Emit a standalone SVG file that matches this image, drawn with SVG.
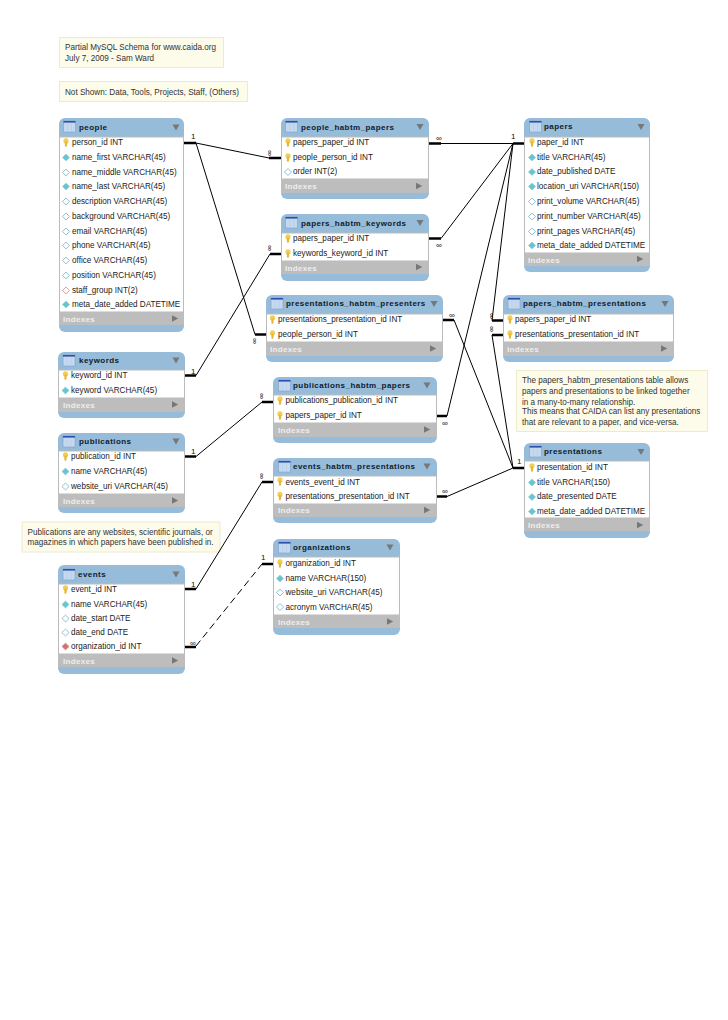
<svg xmlns="http://www.w3.org/2000/svg" width="728" height="1020" viewBox="0 0 728 1020">
<style>
text{font-family:"Liberation Sans",Arial,sans-serif;fill:#222}
.r{font-size:8.15px}
.t{font-size:8px;font-weight:bold;letter-spacing:.45px;fill:#10202e}
.ix{font-size:8px;font-weight:bold;letter-spacing:.3px;fill:#eee}
.n{font-size:8.15px;fill:#333}
.lb{font-size:8px;fill:#111}
.o{fill:#96bcd9}
.b{fill:#fff;stroke:#bbb;stroke-width:1}
.i{fill:#bdbdbd}
.note{fill:#fdfbea;stroke:#eeeacd;stroke-width:1}
.th{stroke:#000;stroke-width:2.5;fill:none}
.tn{stroke:#000;stroke-width:1;fill:none}
.ar{fill:#777}
</style>
<defs>
<g id="k"><circle cx="0" cy="-1.6" r="2.6" fill="#f2ce55"/><path d="M-1.100-1V3.800L.2 4.600 1.100 3V-1Z" fill="#e3b83a"/></g>
<path id="f" d="M0-3.400 3.600 0 0 3.400-3.600 0Z" fill="#69c4d2" stroke="#8cc" stroke-width=".6"/>
<path id="h" d="M0-3.400 3.600 0 0 3.400-3.600 0Z" fill="#fff" stroke="#78b4c4" stroke-width=".8"/>
<path id="r" d="M0-3.400 3.600 0 0 3.400-3.600 0Z" fill="#fff" stroke="#d08a84" stroke-width=".8"/>
<path id="R" d="M0-3.400 3.600 0 0 3.400-3.600 0Z" fill="#d8706c" stroke="#c99" stroke-width=".6"/>
<g id="ti"><rect x="0" y="0" width="12" height="11" fill="#c4d8ee" stroke="#7f9fd0" stroke-width=".6"/><rect x="0" y="0" width="12" height="1.600" fill="#2f4fb0"/><path d="M4 2v9M8 2v9" stroke="#b4c9e6" stroke-width=".5"/></g>
<path id="dn" d="M-3.500-3H3.500L0 3Z" class="ar"/>
<path id="rt" d="M-3-3.200V3.200L3.200 0Z" class="ar"/>
</defs>

<g id="note-title"><rect class="note" x="59.500" y="37.500" width="164" height="30"/><text class="n" x="65" y="50">Partial MySQL Schema for www.caida.org</text><text class="n" x="65" y="61">July 7, 2009 - Sam Ward</text></g>
<g id="note-notshown"><rect class="note" x="59.500" y="81.500" width="188" height="20"/><text class="n" x="65" y="95">Not Shown: Data, Tools, Projects, Staff, (Others)</text></g>
<g id="note-publications"><rect class="note" x="22" y="522" width="198" height="30"/><text class="n" x="27.500" y="535">Publications are any websites, scientific journals, or</text><text class="n" x="27.500" y="545">magazines in which papers have been published in.</text></g>
<g id="note-habtm"><rect class="note" x="516.500" y="370.500" width="191" height="61"/><text class="n" x="522" y="383">The papers_habtm_presentations table allows</text><text class="n" x="522" y="394">papers and presentations to be linked together</text><text class="n" x="522" y="404.500">in a many-to-many relationship.</text><text class="n" x="522" y="414">This means that CAIDA can list any presentations</text><text class="n" x="522" y="425">that are relevant to a paper, and vice-versa.</text></g>

<g id="people"><rect class="o" x="59" y="118" width="125" height="214" rx="6"/><rect class="b" x="59.500" y="137" width="124" height="175"/><rect class="i" x="59" y="312" width="125" height="13"/><use href="#ti" x="63.500" y="121"/><text class="t" x="79" y="129.500">people</text><use href="#dn" x="176" y="127.500"/><use href="#k" x="66" y="142.500"/><text class="r" x="72" y="145.300">person_id INT</text><use href="#f" x="66" y="157.500"/><text class="r" x="72" y="160.300">name_first VARCHAR(45)</text><use href="#h" x="66" y="172.500"/><text class="r" x="72" y="175.300">name_middle VARCHAR(45)</text><use href="#f" x="66" y="186.500"/><text class="r" x="72" y="189.300">name_last VARCHAR(45)</text><use href="#h" x="66" y="201.500"/><text class="r" x="72" y="204.300">description VARCHAR(45)</text><use href="#h" x="66" y="216.500"/><text class="r" x="72" y="219.300">background VARCHAR(45)</text><use href="#h" x="66" y="231.500"/><text class="r" x="72" y="234.300">email VARCHAR(45)</text><use href="#h" x="66" y="245.500"/><text class="r" x="72" y="248.300">phone VARCHAR(45)</text><use href="#h" x="66" y="260.500"/><text class="r" x="72" y="263.300">office VARCHAR(45)</text><use href="#h" x="66" y="275.500"/><text class="r" x="72" y="278.300">position VARCHAR(45)</text><use href="#r" x="66" y="290.500"/><text class="r" x="72" y="293.300">staff_group INT(2)</text><use href="#f" x="66" y="304.500"/><text class="r" x="72" y="307.300">meta_date_added DATETIME</text><text class="ix" x="63" y="321.500">Indexes</text><use href="#rt" x="175" y="318.500"/></g>

<g id="keywords"><rect class="o" x="58" y="352" width="127" height="66" rx="6"/><rect class="b" x="58.500" y="370" width="126" height="28"/><rect class="i" x="58" y="398" width="127" height="14"/><use href="#ti" x="63" y="355"/><text class="t" x="79" y="363">keywords</text><use href="#dn" x="176" y="360.500"/><use href="#k" x="65.500" y="375.500"/><text class="r" x="71" y="378.300">keyword_id INT</text><use href="#f" x="65.500" y="390.500"/><text class="r" x="71" y="393.300">keyword VARCHAR(45)</text><text class="ix" x="63" y="407.500">Indexes</text><use href="#rt" x="175" y="404.500"/></g>

<g id="publications"><rect class="o" x="58" y="433" width="127" height="80" rx="6"/><rect class="b" x="58.500" y="451" width="126" height="43"/><rect class="i" x="58" y="494" width="127" height="13"/><use href="#ti" x="63" y="436"/><text class="t" x="79" y="444">publications</text><use href="#dn" x="176" y="441.500"/><use href="#k" x="65.500" y="456.500"/><text class="r" x="71" y="459.300">publication_id INT</text><use href="#f" x="65.500" y="471.500"/><text class="r" x="71" y="474.300">name VARCHAR(45)</text><use href="#h" x="65.500" y="486.500"/><text class="r" x="71" y="489.300">website_uri VARCHAR(45)</text><text class="ix" x="63" y="503.500">Indexes</text><use href="#rt" x="175" y="500.500"/></g>

<g id="events"><rect class="o" x="58" y="565" width="127" height="109" rx="6"/><rect class="b" x="58.500" y="584" width="126" height="70"/><rect class="i" x="58" y="654" width="127" height="13"/><use href="#ti" x="63" y="569"/><text class="t" x="78" y="577">events</text><use href="#dn" x="176" y="574.500"/><use href="#k" x="65.500" y="589.500"/><text class="r" x="71" y="592.300">event_id INT</text><use href="#f" x="65.500" y="604.500"/><text class="r" x="71" y="607.300">name VARCHAR(45)</text><use href="#h" x="65.500" y="618.500"/><text class="r" x="71" y="621.300">date_start DATE</text><use href="#h" x="65.500" y="632.500"/><text class="r" x="71" y="635.300">date_end DATE</text><use href="#R" x="65.500" y="646.500"/><text class="r" x="71" y="649.300">organization_id INT</text><text class="ix" x="63" y="663.500">Indexes</text><use href="#rt" x="175" y="660.500"/></g>

<g id="people_habtm_papers"><rect class="o" x="281" y="118" width="148" height="81" rx="6"/><rect class="b" x="281.500" y="137" width="147" height="42"/><rect class="i" x="281" y="179" width="148" height="14"/><use href="#ti" x="285.500" y="121"/><text class="t" x="301" y="129.500">people_habtm_papers</text><use href="#dn" x="420" y="127"/><use href="#k" x="288" y="142.500"/><text class="r" x="293" y="145.300">papers_paper_id INT</text><use href="#k" x="288" y="157.500"/><text class="r" x="293" y="160.300">people_person_id INT</text><use href="#h" x="288" y="172"/><text class="r" x="293" y="174.300">order INT(2)</text><text class="ix" x="285" y="189">Indexes</text><use href="#rt" x="419" y="186"/></g>

<g id="papers_habtm_keywords"><rect class="o" x="281" y="214" width="148" height="67" rx="6"/><rect class="b" x="281.500" y="233" width="147" height="28"/><rect class="i" x="281" y="261" width="148" height="13"/><use href="#ti" x="285.500" y="217"/><text class="t" x="301" y="225.500">papers_habtm_keywords</text><use href="#dn" x="420" y="223"/><use href="#k" x="288" y="238.500"/><text class="r" x="293" y="241.300">papers_paper_id INT</text><use href="#k" x="288" y="253.500"/><text class="r" x="293" y="256.300">keywords_keyword_id INT</text><text class="ix" x="285" y="270.500">Indexes</text><use href="#rt" x="419" y="267"/></g>

<g id="presentations_habtm_presenters"><rect class="o" x="266" y="295" width="177" height="67" rx="6"/><rect class="b" x="266.500" y="314" width="176" height="28"/><rect class="i" x="266" y="342" width="177" height="14"/><use href="#ti" x="271" y="298"/><text class="t" x="286" y="306">presentations_habtm_presenters</text><use href="#dn" x="434" y="304"/><use href="#k" x="272.500" y="319.500"/><text class="r" x="278" y="322.300">presentations_presentation_id INT</text><use href="#k" x="272.500" y="334.500"/><text class="r" x="278" y="337.300">people_person_id INT</text><text class="ix" x="270" y="351.500">Indexes</text><use href="#rt" x="433" y="348.500"/></g>

<g id="publications_habtm_papers"><rect class="o" x="273" y="377" width="164" height="66" rx="6"/><rect class="b" x="273.500" y="395" width="163" height="28"/><rect class="i" x="273" y="423" width="164" height="14"/><use href="#ti" x="278.500" y="380"/><text class="t" x="293" y="388">publications_habtm_papers</text><use href="#dn" x="427" y="385.500"/><use href="#k" x="280" y="400.500"/><text class="r" x="285.500" y="403.300">publications_publication_id INT</text><use href="#k" x="280" y="415.500"/><text class="r" x="285.500" y="418.300">papers_paper_id INT</text><text class="ix" x="278" y="432.500">Indexes</text><use href="#rt" x="427" y="429.500"/></g>

<g id="events_habtm_presentations"><rect class="o" x="273" y="458" width="164" height="65" rx="6"/><rect class="b" x="273.500" y="476" width="163" height="28"/><rect class="i" x="273" y="504" width="164" height="13"/><use href="#ti" x="278.500" y="461"/><text class="t" x="293" y="469">events_habtm_presentations</text><use href="#dn" x="427" y="466.500"/><use href="#k" x="280" y="481.500"/><text class="r" x="285.500" y="485">events_event_id INT</text><use href="#k" x="280" y="496"/><text class="r" x="285.500" y="499">presentations_presentation_id INT</text><text class="ix" x="278" y="513">Indexes</text><use href="#rt" x="427" y="510"/></g>

<g id="organizations"><rect class="o" x="273" y="539" width="127" height="96" rx="6"/><rect class="b" x="273.500" y="557" width="126" height="58"/><rect class="i" x="273" y="615" width="127" height="13"/><use href="#ti" x="278.500" y="542"/><text class="t" x="293" y="550">organizations</text><use href="#dn" x="390" y="547.500"/><use href="#k" x="280" y="563.500"/><text class="r" x="285.500" y="566.300">organization_id INT</text><use href="#f" x="280" y="578.500"/><text class="r" x="285.500" y="581.300">name VARCHAR(150)</text><use href="#h" x="280" y="592.500"/><text class="r" x="285.500" y="595.300">website_uri VARCHAR(45)</text><use href="#h" x="280" y="607"/><text class="r" x="285.500" y="610.300">acronym VARCHAR(45)</text><text class="ix" x="278" y="624.500">Indexes</text><use href="#rt" x="390" y="621.500"/></g>

<g id="papers"><rect class="o" x="524" y="118" width="126" height="154" rx="6"/><rect class="b" x="524.500" y="137" width="125" height="116"/><rect class="i" x="524" y="253" width="126" height="13"/><use href="#ti" x="529.500" y="121"/><text class="t" x="544" y="128.500">papers</text><use href="#dn" x="641" y="127"/><use href="#k" x="532" y="142.500"/><text class="r" x="537" y="145.300">paper_id INT</text><use href="#f" x="532" y="157.500"/><text class="r" x="537" y="160.300">title VARCHAR(45)</text><use href="#f" x="532" y="172"/><text class="r" x="537" y="174.300">date_published DATE</text><use href="#f" x="532" y="186.500"/><text class="r" x="537" y="189.300">location_uri VARCHAR(150)</text><use href="#h" x="532" y="201.500"/><text class="r" x="537" y="204.300">print_volume VARCHAR(45)</text><use href="#h" x="532" y="216.500"/><text class="r" x="537" y="219.300">print_number VARCHAR(45)</text><use href="#h" x="532" y="231.500"/><text class="r" x="537" y="234.300">print_pages VARCHAR(45)</text><use href="#f" x="532" y="245.500"/><text class="r" x="537" y="248.300">meta_date_added DATETIME</text><text class="ix" x="528" y="262.500">Indexes</text><use href="#rt" x="640" y="259"/></g>

<g id="papers_habtm_presentations"><rect class="o" x="503" y="295" width="171" height="67" rx="6"/><rect class="b" x="503.500" y="314" width="170" height="28"/><rect class="i" x="503" y="342" width="171" height="14"/><use href="#ti" x="508" y="298"/><text class="t" x="523" y="306">papers_habtm_presentations</text><use href="#dn" x="665" y="304"/><use href="#k" x="510" y="319.500"/><text class="r" x="515" y="322.300">papers_paper_id INT</text><use href="#k" x="510" y="334.500"/><text class="r" x="515" y="337.300">presentations_presentation_id INT</text><text class="ix" x="507" y="351.500">Indexes</text><use href="#rt" x="664" y="348.500"/></g>

<g id="presentations"><rect class="o" x="524" y="443" width="126" height="95" rx="6"/><rect class="b" x="524.500" y="461" width="125" height="57"/><rect class="i" x="524" y="518" width="126" height="13"/><use href="#ti" x="529.500" y="446"/><text class="t" x="544" y="454">presentations</text><use href="#dn" x="641" y="452"/><use href="#k" x="532" y="467.500"/><text class="r" x="537" y="470.300">presentation_id INT</text><use href="#f" x="532" y="482.500"/><text class="r" x="537" y="485.300">title VARCHAR(150)</text><use href="#f" x="532" y="497"/><text class="r" x="537" y="499.300">date_presented DATE</text><use href="#f" x="532" y="511.500"/><text class="r" x="537" y="514.300">meta_date_added DATETIME</text><text class="ix" x="528" y="527.500">Indexes</text><use href="#rt" x="640" y="525"/></g>

<g id="connectors">
<path class="th" d="M184 143H196M269 158H281M255 334.500H266M185 375.500H196M270 254H281M185 456.500H196M262 402H273M185 589H196M262 482H273M185 647H196M262 564H273M429 143.500H441M513 143.500H524M429 238.500H441M443 320H454M437 416H447M492 320.500H503M492 335H503M437 496.500H447M513 468H524"/>
<path class="tn" d="M196 143 269 158M196 143 255 334.500M196 375.500 270 254M196 456.500 262 402M196 589 262 482M441 143.500H513M441 238.500 513 143.500M454 320 513 468M447 416 513 143.500M492 320.500 513 143.500M492 335 513 468M447 496.500 513 468"/>
<path class="tn" stroke-dasharray="7 4" d="M196 646 262 564"/>
<g>
<text class="lb" x="191" y="139">1</text>
<text class="lb" x="191" y="374">1</text>
<text class="lb" x="191" y="454">1</text>
<text class="lb" x="191" y="587">1</text>
<text class="lb" x="261" y="560">1</text>
<text class="lb" x="511" y="139">1</text>
<text class="lb" x="517" y="464">1</text>
<text class="lb" x="436" y="141">∞</text>
<text class="lb" x="436" y="248">∞</text>
<text class="lb" x="449" y="318">∞</text>
<text class="lb" x="442" y="426">∞</text>
<text class="lb" x="442" y="494">∞</text>
<text class="lb" transform="rotate(-90 272 156)" x="272" y="156">∞</text>
<text class="lb" transform="rotate(-90 272 251)" x="272" y="251">∞</text>
<text class="lb" transform="rotate(-90 257 344)" x="257" y="344">∞</text>
<text class="lb" transform="rotate(-90 264 399)" x="264" y="399">∞</text>
<text class="lb" transform="rotate(-90 264 479)" x="264" y="479">∞</text>
<text class="lb" transform="rotate(-90 494 319)" x="494" y="319">∞</text>
<text class="lb" transform="rotate(-90 494 332)" x="494" y="332">∞</text>
<text class="lb" x="190" y="646">∞</text>
</g>
</g>
</svg>
